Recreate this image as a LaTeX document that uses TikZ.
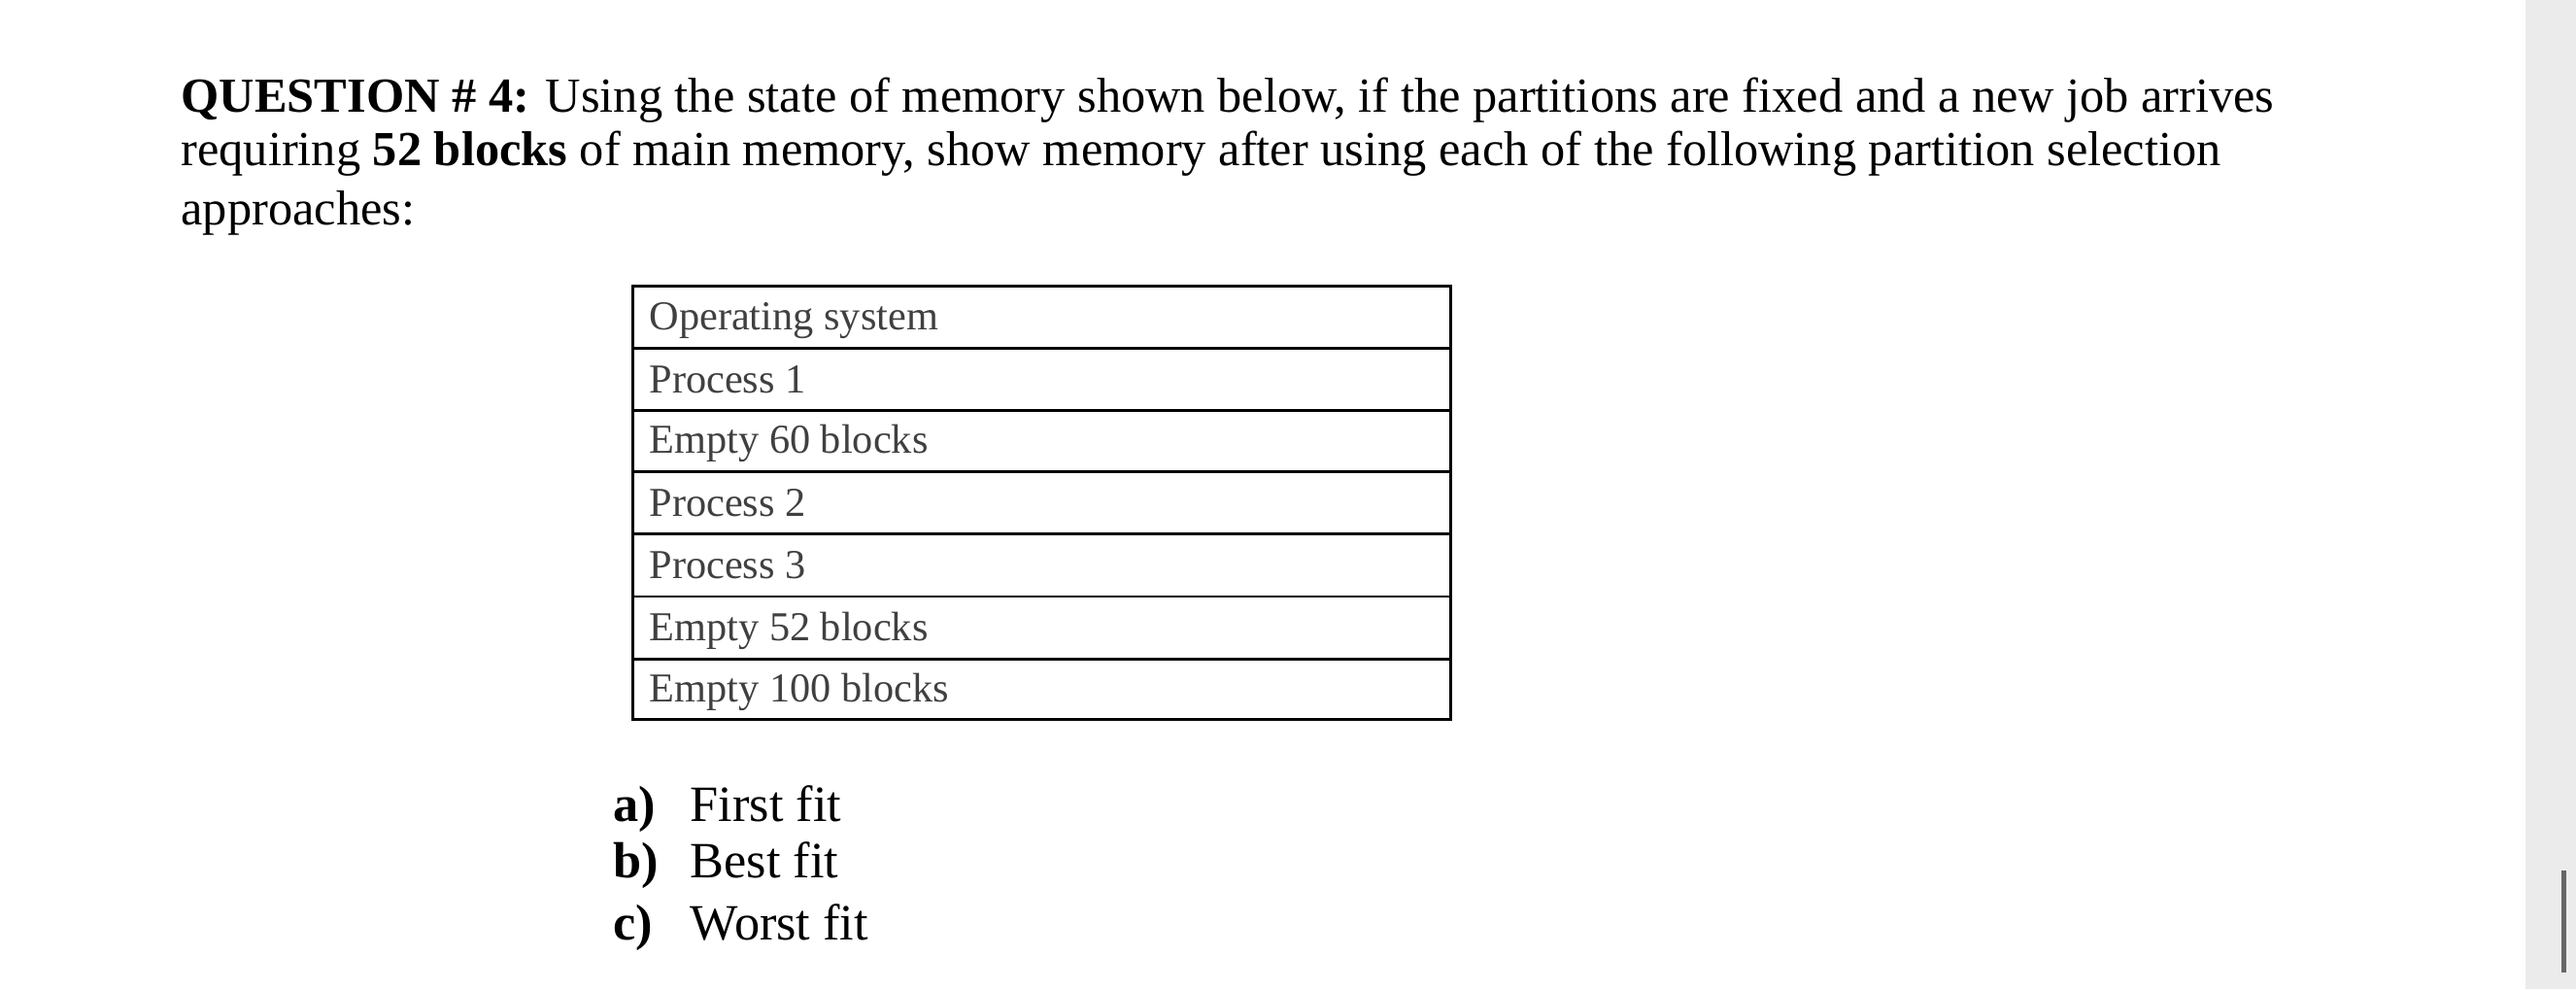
\documentclass[tikz,border=0pt]{standalone}
\usepackage{fontspec}
\setmainfont{Liberation Serif}
\usetikzlibrary{positioning}

\begin{document}
\begin{tikzpicture}[x={(0.025cm,0)},y={(0,-0.025cm)},
    line/.style = {anchor=base west, inner sep=0pt, font=\fontsize{21.2}{25}\selectfont},
    cell/.style = {anchor=base west, inner sep=0pt, text=black!75, font=\fontsize{17.8}{21}\selectfont},
    item/.style = {anchor=base west, inner sep=0pt, font=\fontsize{22}{26}\selectfont}]
        \useasboundingbox (0,0) rectangle (1568,602);
        \fill[black!8] (1537,0) rectangle (1568,602);
        \fill[black!60] (1559,530) rectangle (1562,592);

        \node[line] (title_1) at (110,68) {\textbf{QUESTION \# 4:} Using the state of memory shown below, if the partitions are fixed and a new job arrives};
        \node[line] (title_2) at (110,101) {requiring \textbf{52 blocks} of main memory, show memory after using each of the following partition selection};
        \node[line] (title_3) at (110,137) {approaches:};

        \draw[line width=1.2pt] (385,174) rectangle (883,438);
        \foreach \y in {212,250,287,325,363,401}
            \draw[line width=1.2pt] (385,\y) -- (883,\y);
        \node[cell] (os) at (395,201) {Operating system};
        \node[cell] (p_1) at (395,239) {Process 1};
        \node[cell] (empty_60) at (395,276) {Empty 60 blocks};
        \node[cell] (p_2) at (395,314) {Process 2};
        \node[cell] (p_3) at (395,352) {Process 3};
        \node[cell] (empty_52) at (395,390) {Empty 52 blocks};
        \node[cell] (empty_100) at (395,427) {Empty 100 blocks};

        \node[item] (a) at (373,500) {\textbf{a)}};
        \node[item] (b) at (373,534) {\textbf{b)}};
        \node[item] (c) at (373,572) {\textbf{c)}};
        \node[item] (first_fit) at (420,500) {First fit};
        \node[item] (best_fit) at (420,534) {Best fit};
        \node[item] (worst_fit) at (420,572) {Worst fit};
    \end{tikzpicture}
\end{document}
